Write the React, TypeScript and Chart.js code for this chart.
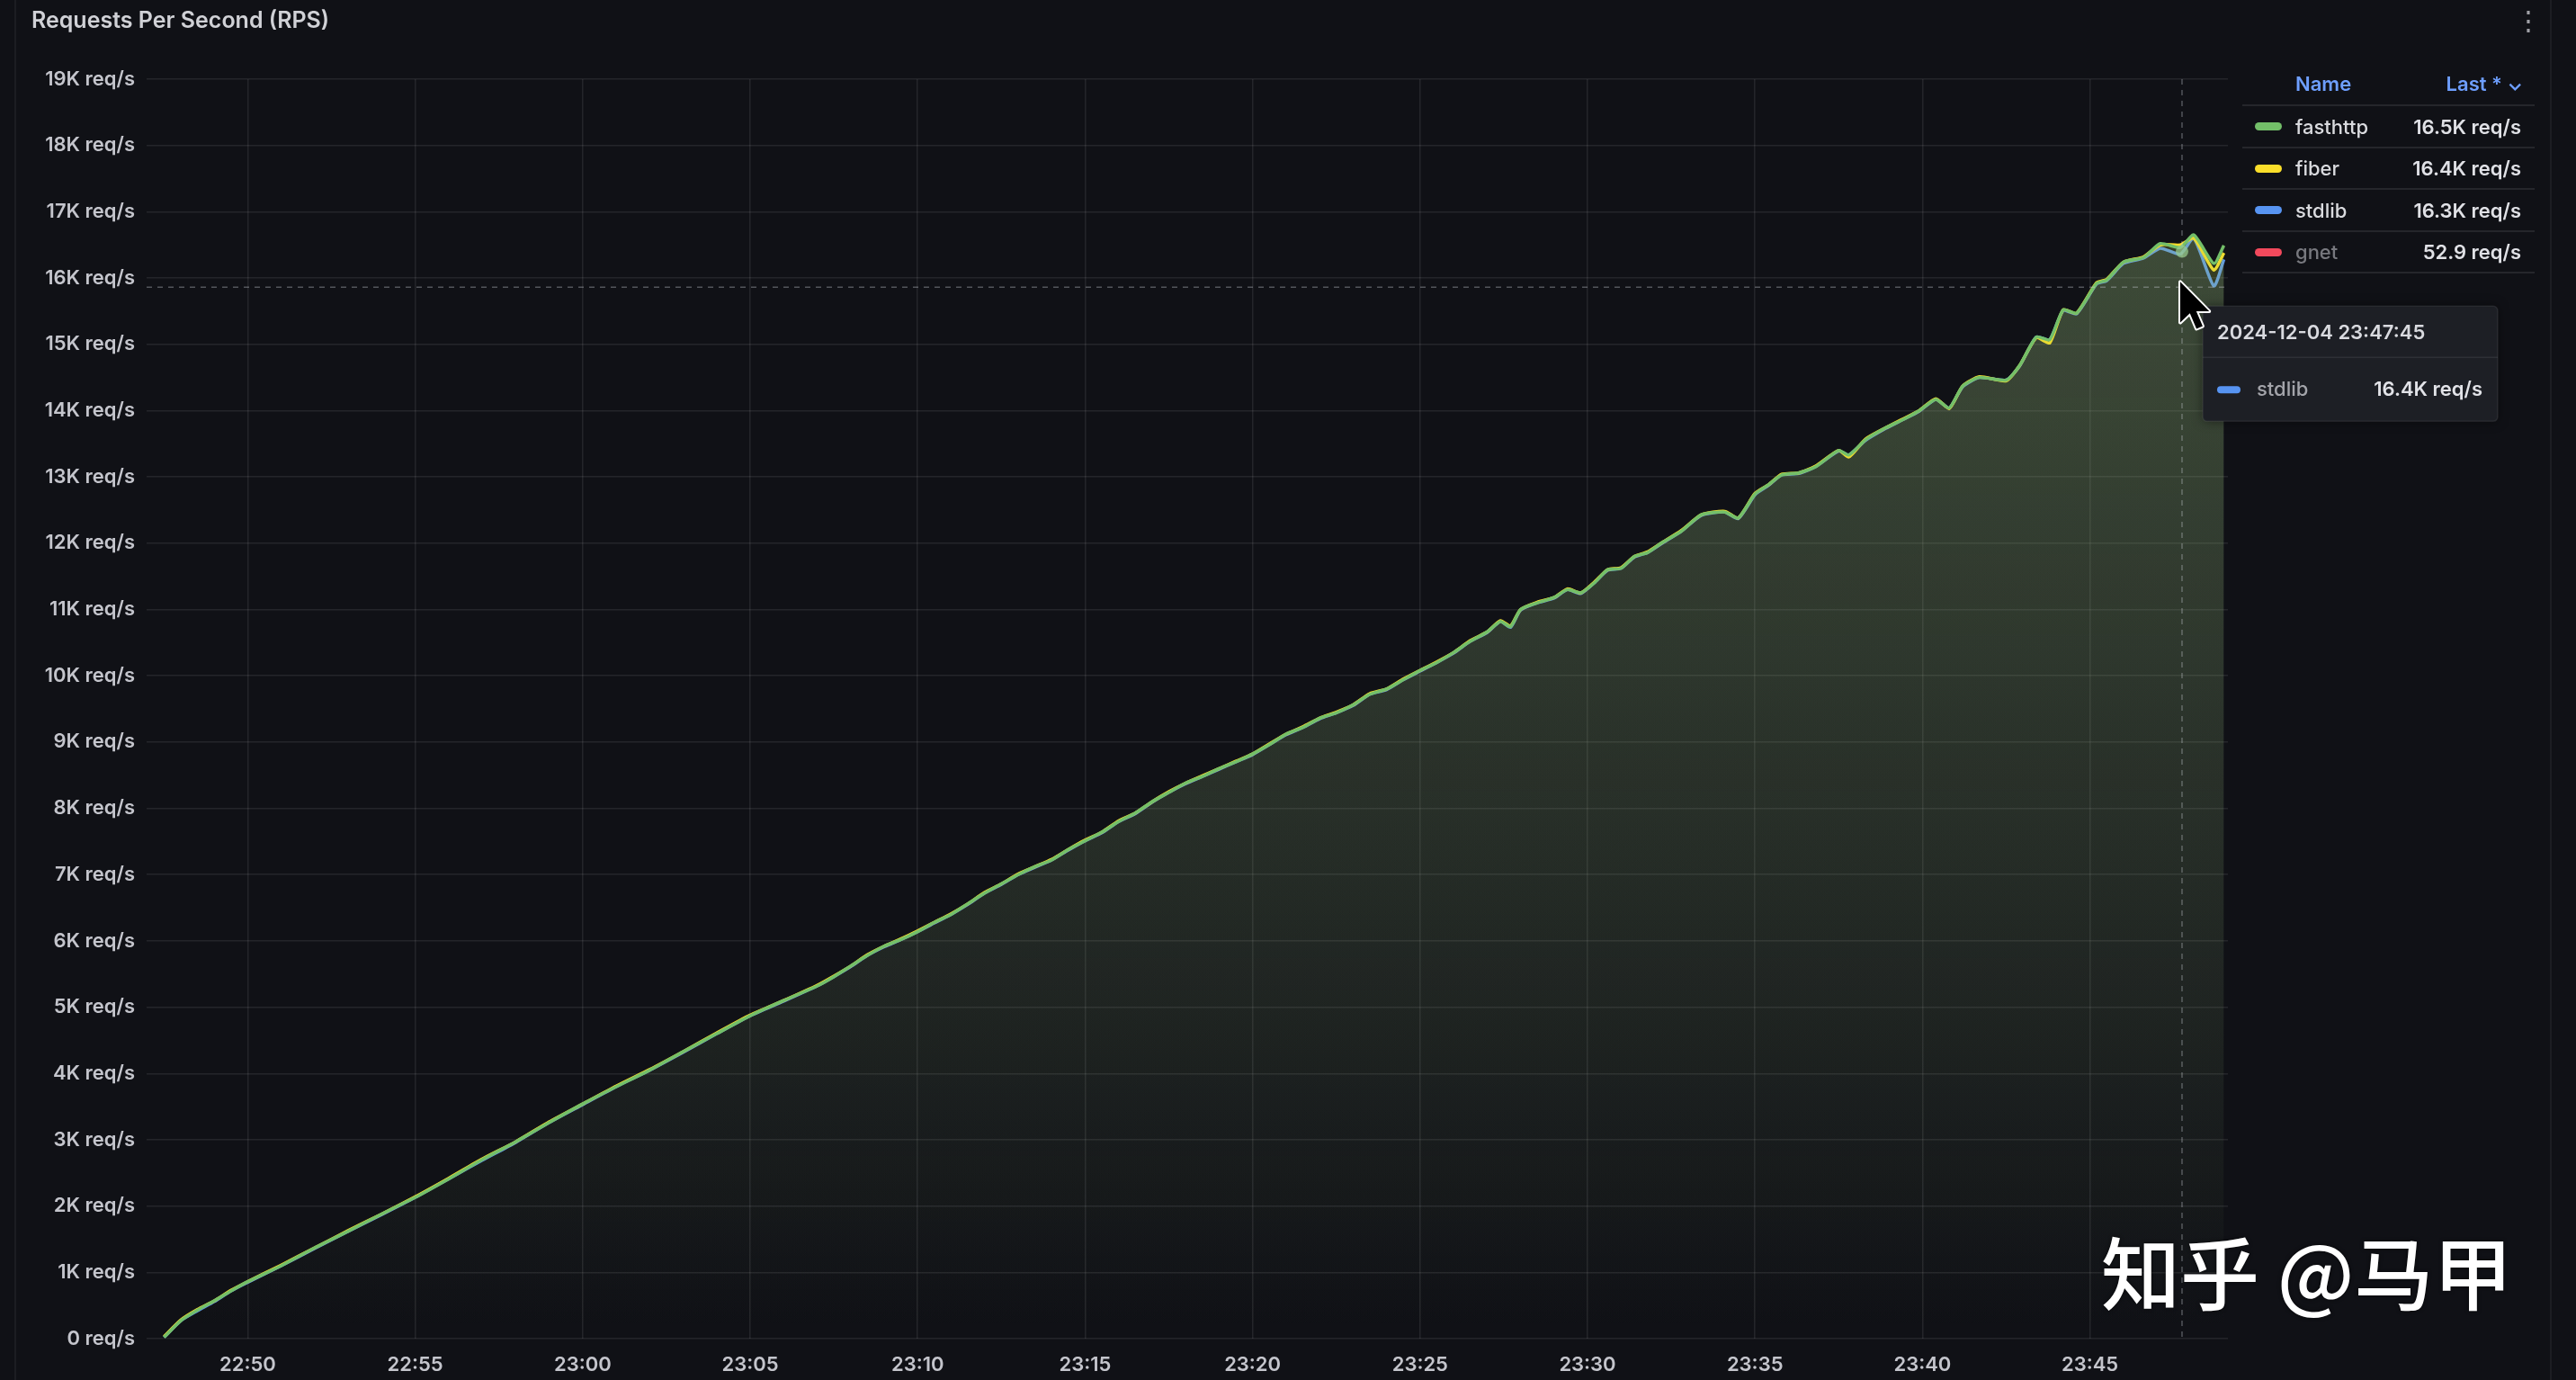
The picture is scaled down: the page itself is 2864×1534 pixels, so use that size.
import React, { useEffect, useRef } from "react";
import { Chart, registerables } from "chart.js";

Chart.register(...registerables);

// ---------- data (x = minutes after 22:00, y = thousands of req/s) ----------
const times = [
  47.5, 48, 48.5, 49, 49.5, 50, 51, 52, 53, 54,
  55, 56, 57, 58, 59, 60, 61, 62, 63, 64,
  65, 66, 67, 67.5, 68, 68.5, 69, 69.5, 70, 70.5,
  71, 71.5, 72, 72.5, 73, 73.5, 74, 74.5, 75, 75.5,
  76, 76.5, 77, 77.5, 78, 78.5, 79, 79.5, 80, 80.5,
  81, 81.5, 82, 82.5, 83, 83.5, 84, 84.5, 85, 85.5,
  86, 86.5, 87, 87.4, 87.7, 88, 88.5, 89, 89.4, 89.8,
  90.2, 90.6, 91, 91.4, 91.8, 92.2, 92.8, 93.4, 94.1, 94.5,
  95, 95.4, 95.8, 96.3, 96.8, 97.5, 97.8, 98.3, 98.9, 99.4,
  99.9, 100.4, 100.8, 101.2, 101.7, 102.5, 102.9, 103.4, 103.8, 104.2,
  104.6, 105.2, 105.5, 106, 106.6, 107.1, 107.7, 108.1, 108.7, 109,
];

const fasthttp = [
  0.02, 0.27, 0.43, 0.57, 0.72, 0.86, 1.1, 1.37, 1.62, 1.88,
  2.13, 2.41, 2.7, 2.97, 3.26, 3.54, 3.8, 4.05, 4.33, 4.6,
  4.87, 5.1, 5.32, 5.46, 5.62, 5.78, 5.92, 6.02, 6.14, 6.28,
  6.4, 6.56, 6.72, 6.86, 7.0, 7.12, 7.22, 7.38, 7.51, 7.64,
  7.8, 7.93, 8.1, 8.24, 8.38, 8.48, 8.6, 8.7, 8.82, 8.96,
  9.12, 9.22, 9.36, 9.44, 9.56, 9.72, 9.8, 9.94, 10.08, 10.2,
  10.35, 10.52, 10.66, 10.82, 10.74, 11.0, 11.1, 11.18, 11.3, 11.25,
  11.4, 11.6, 11.62, 11.8, 11.86, 12.0, 12.18, 12.43, 12.47, 12.38,
  12.74, 12.88, 13.03, 13.06, 13.15, 13.4, 13.33, 13.56, 13.74, 13.86,
  14.0, 14.17, 14.04, 14.37, 14.5, 14.46, 14.68, 15.11, 15.07, 15.52,
  15.47, 15.92, 15.97, 16.24, 16.31, 16.52, 16.46, 16.65, 16.22, 16.49,
];

const fiber = [
  0.03, 0.28, 0.44, 0.57, 0.73, 0.86, 1.11, 1.37, 1.63, 1.88,
  2.14, 2.42, 2.71, 2.97, 3.27, 3.54, 3.81, 4.06, 4.33, 4.61,
  4.88, 5.1, 5.33, 5.47, 5.62, 5.79, 5.92, 6.03, 6.15, 6.28,
  6.41, 6.56, 6.73, 6.86, 7.01, 7.12, 7.23, 7.38, 7.52, 7.64,
  7.81, 7.93, 8.1, 8.25, 8.38, 8.49, 8.6, 8.71, 8.82, 8.97,
  9.12, 9.23, 9.36, 9.45, 9.56, 9.73, 9.8, 9.95, 10.08, 10.21,
  10.35, 10.53, 10.66, 10.83, 10.75, 11.0, 11.11, 11.18, 11.31, 11.25,
  11.41, 11.6, 11.63, 11.8, 11.87, 12.0, 12.19, 12.43, 12.48, 12.38,
  12.75, 12.88, 13.04, 13.06, 13.16, 13.4, 13.3, 13.57, 13.74, 13.87,
  14.0, 14.18, 14.03, 14.37, 14.51, 14.45, 14.68, 15.1, 15.02, 15.52,
  15.47, 15.93, 15.98, 16.24, 16.32, 16.5, 16.5, 16.6, 16.12, 16.38,
];

const stdlib = [
  0.02, 0.27, 0.42, 0.56, 0.72, 0.85, 1.1, 1.36, 1.62, 1.87,
  2.13, 2.41, 2.69, 2.96, 3.26, 3.53, 3.8, 4.05, 4.32, 4.6,
  4.87, 5.09, 5.32, 5.46, 5.61, 5.78, 5.91, 6.02, 6.14, 6.27,
  6.4, 6.55, 6.72, 6.85, 7.0, 7.11, 7.22, 7.37, 7.51, 7.63,
  7.8, 7.92, 8.09, 8.24, 8.37, 8.48, 8.59, 8.7, 8.81, 8.96,
  9.11, 9.22, 9.35, 9.44, 9.55, 9.72, 9.79, 9.94, 10.07, 10.2,
  10.34, 10.52, 10.65, 10.82, 10.73, 10.99, 11.1, 11.17, 11.3, 11.24,
  11.4, 11.59, 11.62, 11.79, 11.86, 11.99, 12.18, 12.42, 12.47, 12.37,
  12.73, 12.87, 13.03, 13.05, 13.15, 13.39, 13.33, 13.55, 13.73, 13.86,
  13.99, 14.17, 14.04, 14.36, 14.5, 14.46, 14.67, 15.11, 15.07, 15.51,
  15.46, 15.91, 15.96, 16.22, 16.3, 16.45, 16.36, 16.6, 15.88, 16.28,
];

const seriesNames = ["fasthttp", "fiber", "stdlib", "gnet"];
const seriesColors = ["#73bf69", "#fade2a", "#5794f2", "#f2495c"];
const seriesHidden = [false, false, false, true];
// legend "Last *" column (thousands of req/s)
const legendLast = [16.5, 16.4, 16.3, 0.0529];

const xTicks = [50, 55, 60, 65, 70, 75, 80, 85, 90, 95, 100, 105];
const yTicks = [0, 1, 2, 3, 4, 5, 6, 7, 8, 9, 10, 11, 12, 13, 14, 15, 16, 17, 18, 19];
const xMin = 46.98;
const xMax = 109.12;
const yMax = 19;

const hoverTime = 107.75; // 23:47:45
const hoverValue = 15.86; // crosshair level
const tooltipLabel = "2024-12-04 23:47:45";
const tooltipSeries = "stdlib";
const tooltipValue = 16.4;

const W = 2864;
const H = 1534;
const BG = "#101116";
const FONT = "Inter, 'Noto Sans', sans-serif";

function fmtTime(v: number) {
  const total = Math.round(v);
  const h = 22 + Math.floor(total / 60);
  const m = total % 60;
  return `${String(h).padStart(2, "0")}:${String(m).padStart(2, "0")}`;
}
function fmtRate(k: number) {
  if (k === 0) return "0 req/s";
  if (k < 1) return `${(k * 1000).toFixed(1)} req/s`;
  return Number.isInteger(k) ? `${k}K req/s` : `${k.toFixed(1)}K req/s`;
}
function rgba(hex: string, a: number) {
  const n = parseInt(hex.slice(1), 16);
  return `rgba(${(n >> 16) & 255},${(n >> 8) & 255},${n & 255},${a})`;
}
function rr(ctx: CanvasRenderingContext2D, x: number, y: number, w: number, h: number, r: number) {
  ctx.beginPath();
  ctx.moveTo(x + r, y);
  ctx.lineTo(x + w - r, y);
  ctx.arcTo(x + w, y, x + w, y + r, r);
  ctx.lineTo(x + w, y + h - r);
  ctx.arcTo(x + w, y + h, x + w - r, y + h, r);
  ctx.lineTo(x + r, y + h);
  ctx.arcTo(x, y + h, x, y + h - r, r);
  ctx.lineTo(x, y + r);
  ctx.arcTo(x, y, x + r, y, r);
  ctx.closePath();
}

const overlayPlugin = {
  id: "overlay",
  afterDraw(chart: any) {
    const { ctx, chartArea: ca, scales } = chart;
    const hx = scales.x.getPixelForValue(hoverTime);
    const hy = scales.y.getPixelForValue(hoverValue);
    ctx.save();
    // crosshair
    ctx.setLineDash([6, 6]);
    ctx.strokeStyle = "rgba(210,212,220,0.35)";
    ctx.lineWidth = 1.5;
    ctx.beginPath();
    ctx.moveTo(hx, ca.top);
    ctx.lineTo(hx, ca.bottom);
    ctx.stroke();
    ctx.beginPath();
    ctx.moveTo(ca.left, hy);
    ctx.lineTo(ca.right, hy);
    ctx.stroke();
    ctx.setLineDash([]);

    // hovered point
    const si = seriesNames.indexOf(tooltipSeries);
    const py = scales.y.getPixelForValue(tooltipValue);
    ctx.fillStyle = "rgba(150,200,140,0.75)";
    ctx.beginPath();
    ctx.arc(hx, py, 7, 0, Math.PI * 2);
    ctx.fill();

    // tooltip
    const bx = hx + 23;
    const by = hy + 21;
    const bw = 328;
    const bh = 128;
    ctx.shadowColor = "rgba(0,0,0,0.5)";
    ctx.shadowBlur = 12;
    rr(ctx, bx, by, bw, bh, 5);
    ctx.fillStyle = "#1d1f25";
    ctx.fill();
    ctx.shadowBlur = 0;
    ctx.strokeStyle = "rgba(255,255,255,0.08)";
    ctx.lineWidth = 1.5;
    ctx.stroke();
    ctx.beginPath();
    ctx.moveTo(bx, by + 57);
    ctx.lineTo(bx + bw, by + 57);
    ctx.stroke();
    ctx.textBaseline = "middle";
    ctx.font = `600 22px ${FONT}`;
    ctx.fillStyle = "#d9dadf";
    ctx.textAlign = "left";
    ctx.fillText(tooltipLabel, bx + 16, by + 30);
    rr(ctx, bx + 16, by + 89, 26, 8, 4);
    ctx.fillStyle = seriesColors[si];
    ctx.fill();
    ctx.font = `500 22px ${FONT}`;
    ctx.fillStyle = "#a3a4aa";
    ctx.fillText(tooltipSeries, bx + 60, by + 93);
    ctx.font = `600 22px ${FONT}`;
    ctx.fillStyle = "#e2e3e8";
    ctx.textAlign = "right";
    ctx.fillText(fmtRate(tooltipValue), bx + bw - 17, by + 93);

    // mouse cursor
    const cx = hx - 2;
    const cy = hy - 6;
    const s = 2.15;
    const pts = [
      [0, 0], [0, 21], [5, 16.2], [8.4, 24.2], [11.6, 22.9], [8.3, 15.2], [15, 15.2],
    ];
    ctx.beginPath();
    pts.forEach(([px, pyy], i) => {
      const X = cx + px * s;
      const Y = cy + pyy * s;
      if (i === 0) ctx.moveTo(X, Y);
      else ctx.lineTo(X, Y);
    });
    ctx.closePath();
    ctx.lineJoin = "round";
    ctx.lineWidth = 4;
    ctx.strokeStyle = "#ffffff";
    ctx.stroke();
    ctx.fillStyle = "#000000";
    ctx.fill();
    ctx.restore();
  },
};

export default function App() {
  const ref = useRef<HTMLCanvasElement>(null);

  useEffect(() => {
    document.body.style.margin = "0";
    document.body.style.background = BG;
    const canvas = ref.current!;
    const series = [fasthttp, fiber, stdlib];
    const datasets = series.map((vals, i) => ({
      label: seriesNames[i],
      data: times.map((t, j) => ({ x: t, y: vals[j] })),
      borderColor: seriesColors[i],
      borderWidth: 3.5,
      pointRadius: 0,
      tension: 0.2,
      hidden: seriesHidden[i],
      fill: "origin",
      backgroundColor: (c: any) => {
        const ca = c.chart.chartArea;
        if (!ca) return "transparent";
        const g = c.chart.ctx.createLinearGradient(0, ca.top, 0, ca.bottom);
        g.addColorStop(0, rgba(seriesColors[i], 0.15));
        g.addColorStop(1, rgba(seriesColors[i], 0));
        return g;
      },
    }));

    const tickFont = { family: FONT, size: 22, weight: 600 as any };
    const chart = new Chart(canvas, {
      type: "line",
      data: { datasets: datasets as any },
      options: {
        responsive: false,
        animation: false,
        devicePixelRatio: 1,
        layout: { padding: { left: 0, right: W - 2477, top: 88, bottom: 0 } },
        plugins: { legend: { display: false }, tooltip: { enabled: false } },
        scales: {
          x: {
            type: "linear",
            min: xMin,
            max: xMax,
            afterBuildTicks: (s: any) => {
              s.ticks = xTicks.map((v) => ({ value: v }));
            },
            afterFit: (s: any) => {
              s.height = H - 1488;
            },
            ticks: {
              callback: (v: any) => fmtTime(Number(v)),
              color: "#c4c5cc",
              font: tickFont,
              padding: 16,
              maxRotation: 0,
              autoSkip: false,
            },
            grid: { color: "rgba(255,255,255,0.085)", lineWidth: 1.5, drawTicks: false },
            border: { display: false },
          },
          y: {
            min: 0,
            max: yMax,
            afterBuildTicks: (s: any) => {
              s.ticks = yTicks.map((v) => ({ value: v }));
            },
            afterFit: (s: any) => {
              s.width = 163;
            },
            ticks: {
              callback: (v: any) => fmtRate(Number(v)),
              color: "#c4c5cc",
              font: tickFont,
              padding: 13,
              autoSkip: false,
            },
            grid: { color: "rgba(255,255,255,0.085)", lineWidth: 1.5, drawTicks: false },
            border: { display: false },
          },
        },
      },
      plugins: [overlayPlugin],
    });
    return () => chart.destroy();
  }, []);

  const headerY = 93;
  const row0 = 140.5;
  const rowH = 46.5;

  return (
    <div
      style={{
        position: "fixed",
        left: 0,
        top: 0,
        width: W,
        height: H,
        background: BG,
        overflow: "hidden",
        fontFamily: FONT,
      }}
    >
      <div
        style={{
          position: "absolute",
          left: 16,
          top: -20,
          width: 2821,
          height: H + 40,
          border: "2px solid #1c1d22",
          borderRadius: 6,
          boxSizing: "border-box",
        }}
      />
      <canvas
        ref={ref}
        width={W}
        height={H}
        style={{ position: "absolute", left: 0, top: 0, width: W, height: H }}
      />
      <div
        style={{
          position: "absolute",
          left: 35,
          top: 6,
          height: 32,
          lineHeight: "32px",
          fontSize: 25,
          fontWeight: 600,
          color: "#d0d1d6",
          whiteSpace: "nowrap",
        }}
      >
        Requests Per Second (RPS)
      </div>
      <div
        style={{
          position: "absolute",
          left: 2796,
          top: 4,
          width: 26,
          height: 36,
          lineHeight: "36px",
          fontSize: 30,
          color: "#9fa0a6",
          textAlign: "center",
        }}
      >
        ⋮
      </div>

      {/* legend table */}
      <div
        style={{
          position: "absolute",
          left: 2552,
          top: headerY - 15,
          height: 30,
          lineHeight: "30px",
          fontSize: 22,
          fontWeight: 600,
          color: "#6e9fff",
        }}
      >
        Name
      </div>
      <div
        style={{
          position: "absolute",
          right: W - 2805,
          top: headerY - 15,
          height: 30,
          lineHeight: "30px",
          fontSize: 22,
          fontWeight: 600,
          color: "#6e9fff",
          whiteSpace: "nowrap",
        }}
      >
        Last * ⌄
      </div>
      {seriesNames.map((_, i) => (
        <div
          key={"sep" + i}
          style={{
            position: "absolute",
            left: 2493,
            top: 116 + i * rowH,
            width: 325,
            height: 2,
            background: "rgba(255,255,255,0.09)",
          }}
        />
      ))}
      <div
        style={{
          position: "absolute",
          left: 2493,
          top: 116 + seriesNames.length * rowH,
          width: 325,
          height: 2,
          background: "rgba(255,255,255,0.09)",
        }}
      />
      {seriesNames.map((name, i) => {
        const cy = row0 + i * rowH;
        return (
          <React.Fragment key={name}>
            <div
              style={{
                position: "absolute",
                left: 2507,
                top: cy - 4.5,
                width: 30,
                height: 9,
                borderRadius: 5,
                background: seriesColors[i],
              }}
            />
            <div
              style={{
                position: "absolute",
                left: 2552,
                top: cy - 15,
                height: 30,
                lineHeight: "30px",
                fontSize: 22,
                fontWeight: 500,
                color: seriesHidden[i] ? "#77787e" : "#d9dade",
              }}
            >
              {name}
            </div>
            <div
              style={{
                position: "absolute",
                right: W - 2803,
                top: cy - 15,
                height: 30,
                lineHeight: "30px",
                fontSize: 22,
                fontWeight: 600,
                color: "#e0e1e6",
                whiteSpace: "nowrap",
              }}
            >
              {fmtRate(legendLast[i])}
            </div>
          </React.Fragment>
        );
      })}

      {/* watermark */}
      <div
        style={{
          position: "absolute",
          left: 2336,
          top: 1366,
          height: 90,
          lineHeight: "90px",
          fontSize: 88,
          fontWeight: 500,
          fontFamily: "'Noto Sans CJK SC', sans-serif",
          color: "#ffffff",
          whiteSpace: "nowrap",
          textShadow: "0 0 4px rgba(0,0,0,0.7)",
        }}
      >
        知乎 @马甲
      </div>
    </div>
  );
}
